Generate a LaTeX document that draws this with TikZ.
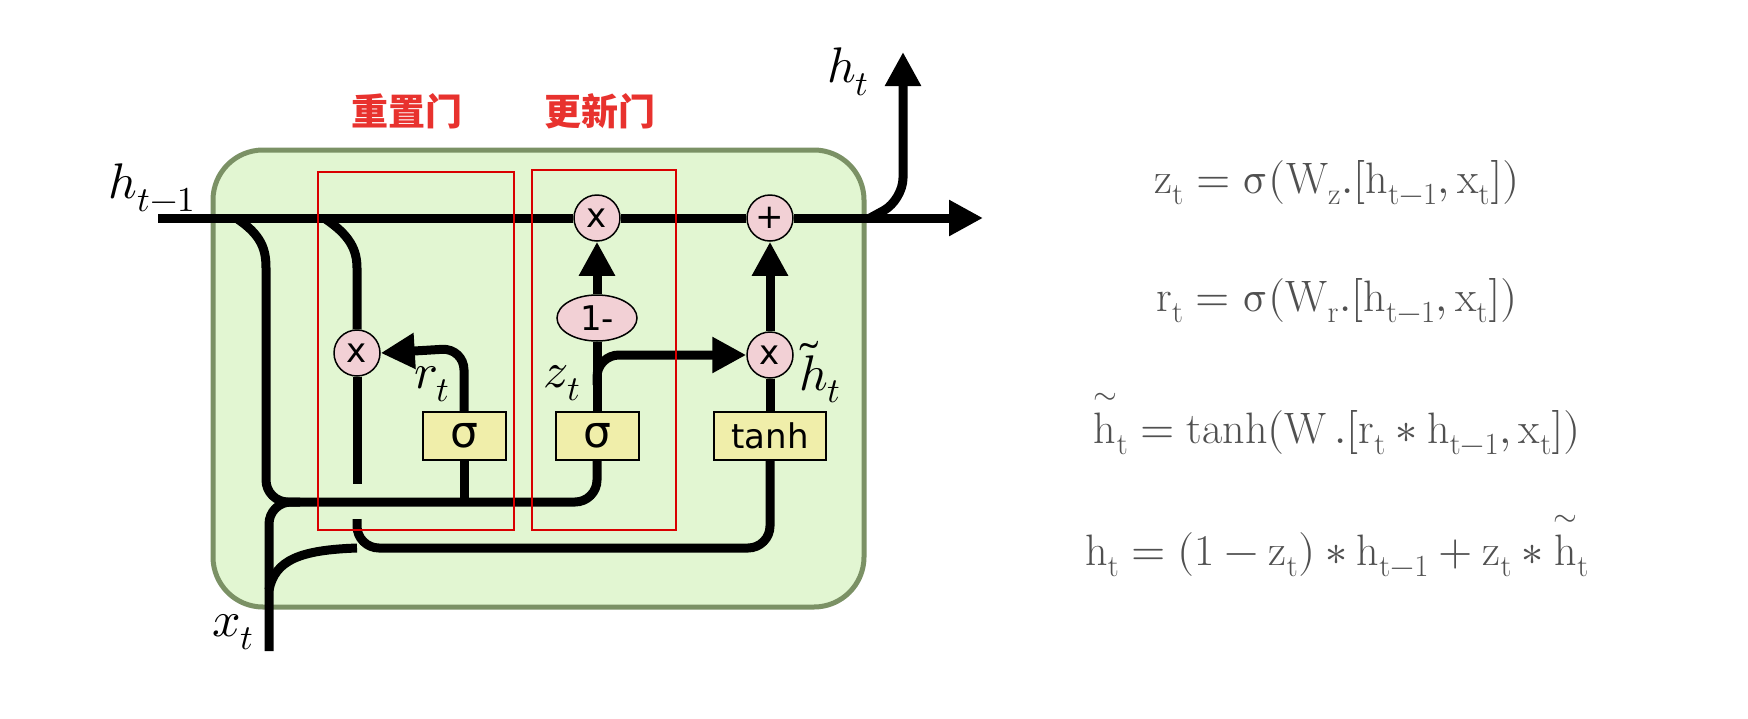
\documentclass[tikz,border=0pt]{standalone}
\usepackage{amsmath}
\usepackage{unicode-math}
\setmathfont{Latin Modern Math}
\newfontfamily\dv{DejaVu Sans}
\newfontfamily\cjk{Noto Sans CJK SC}
\usetikzlibrary{arrows.meta,shapes.geometric}
\definecolor{cellfill}{HTML}{E2F6D2}
\definecolor{celledge}{HTML}{7B9165}
\definecolor{opfill}{HTML}{F2D0D5}
\definecolor{gatefill}{HTML}{F0EEAA}
\definecolor{eqgrey}{HTML}{505050}
\definecolor{gatered}{HTML}{E8322E}
\newcommand{\tildeh}{\overset{\raisebox{-0.35ex}{$\scriptstyle\sim$}}{\mathrm{h}}}
\begin{document}
\begin{tikzpicture}[x=1pt,y=-1pt,
  flow/.style={line width=9pt, rounded corners=22pt},
  tip/.style={-{Triangle[width=34pt,length=34pt]}},
  op/.style={circle, draw, line width=1.5pt, fill=opfill, minimum size=46pt, inner sep=0pt, font=\dv\fontsize{34}{34}\selectfont},
  gate/.style={rectangle, draw, line width=2pt, fill=gatefill, minimum height=48pt, inner sep=0pt, font=\dv\fontsize{34}{34}\selectfont},
  lbl/.style={font=\fontsize{50}{50}\selectfont, inner sep=0pt},
  gname/.style={text=gatered, font=\cjk\bfseries\fontsize{37}{37}\selectfont},
  eq/.style={text=eqgrey, font=\fontsize{44}{44}\selectfont, inner sep=0pt}]
\useasboundingbox (0,0) rectangle (1748,718);
% cell
\draw[line width=5pt, draw=celledge, fill=cellfill, rounded corners=50pt] (213,150) rectangle (864,607);
% coordinates
\coordinate (in) at (158,218);
\coordinate (out) at (983,218);
\coordinate (xin) at (269,651);
\coordinate (htop) at (903,52);
% operators
\node[op] (mr) at (357,353) {x};
\node[op] (mz) at (597,218) {x};
\node[op] (add) at (770,218) {+};
\node[op] (mh) at (770,355) {x};
\node[op, ellipse, minimum width=80pt, minimum height=46pt] (one) at (597,318) {1-};
\node[gate, minimum width=83pt, font=\dv\fontsize{44}{44}\selectfont] (sr) at (464,436) {σ};
\node[gate, minimum width=83pt, font=\dv\fontsize{44}{44}\selectfont] (sz) at (597,436) {σ};
\node[gate, minimum width=112pt] (th) at (770,436) {tanh};
% branch lines
\draw[flow] (236,218) .. controls (262,235) and (266,250) .. (266,290) -- (266,502) -- (597,502) -- (sz.south);
\draw[flow] (464,502) -- (sr.south);
\draw[flow] (324,218) .. controls (350,235) and (357,250) .. (357,290) -- (mr.north);
\draw[flow] (mr.south) -- (357,484);
\draw[flow] (357,519) -- (357,548) -- (770,548) -- (th.south);
\draw[flow] (xin) -- (269,502) -- (300,502);
\draw[flow] (269,590) .. controls (275,560) and (300,550) .. (357,548);
% gate outputs
\draw[flow, tip] (sr.north) -- (464,348) -- (mr.east);
\draw[flow] (sz.north) -- (one.south);
\draw[flow, tip] (597,385) -- (597,355) -- (mh.west);
\draw[flow, tip] (one.north) -- (mz.south);
\draw[flow] (th.north) -- (mh.south);
\draw[flow, tip] (mh.north) -- (add.south);
% main line
\draw[flow] (in) -- (mz.west);
\draw[flow] (mz.east) -- (add.west);
\draw[flow, tip, rounded corners=0pt] (add.east) -- (out);
\draw[flow, tip] (870,218) -- (903,200) -- (htop);
% red gate frames
\draw[red!85!black, line width=1.3pt] (318,172) rectangle (514,530);
\draw[red!85!black, line width=1.3pt] (532,170) rectangle (676,530);
% labels
\node[lbl] (lhp) at (152,188) {$h_{t-1}$};
\node[lbl] (lht) at (848,72) {$h_t$};
\node[lbl] (lxt) at (233,632) {$x_t$};
\node[lbl] (lrt) at (432,384) {$r_t$};
\node[lbl] (lzt) at (562,383) {$z_t$};
\node[lbl] (lhh) at (820,372) {$\tilde{h}_t$};
\node[gname] (reset) at (407,111) {重置门};
\node[gname] (update) at (600,111) {更新门};
% equations
\node[eq] (e1) at (1337,183) {$\mathrm{z_t} = \symup{\sigma}(\mathrm{W_z.[h_{t-1}, x_t]})$};
\node[eq] (e2) at (1337,301) {$\mathrm{r_t} = \symup{\sigma}(\mathrm{W_r.[h_{t-1}, x_t]})$};
\node[eq] (e3) at (1337,421) {$\tildeh_{\mathrm{t}} = \mathrm{tanh(W\,.[r_t * h_{t-1}, x_t])}$};
\node[eq] (e4) at (1337,543) {$\mathrm{h_t = (1 - z_t) * h_{t-1} + z_t} * \tildeh_{\mathrm{t}}$};
\end{tikzpicture}
\end{document}
